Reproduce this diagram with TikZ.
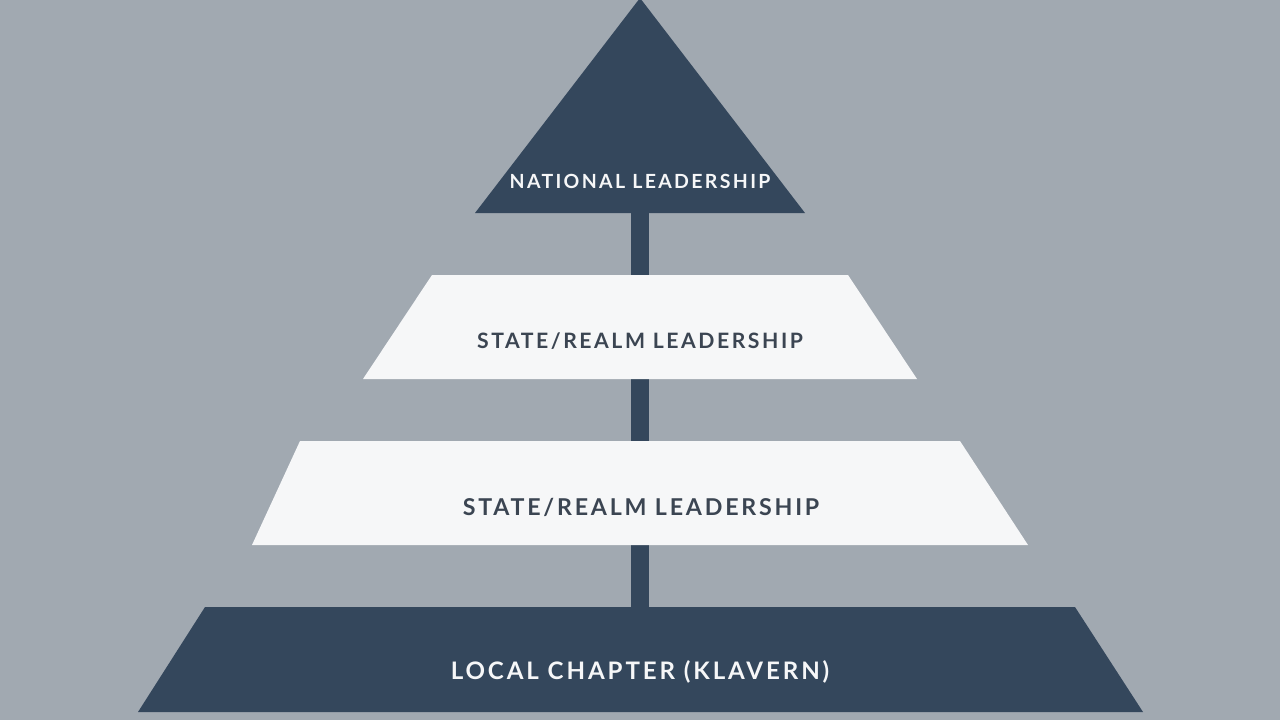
\documentclass[tikz,border=0pt]{standalone}
\usepackage{fontspec}
\setmainfont{Lato}
\newfontfamily\lblfont[LetterSpace=12]{Lato}
\definecolor{bgc}{HTML}{A1A9B1}
\definecolor{navy}{HTML}{34475C}
\definecolor{paper}{HTML}{F6F7F8}
\definecolor{inkc}{HTML}{3B4552}
\begin{document}
\begin{tikzpicture}[x=1pt,y=-1pt,
  darkshape/.style={fill=navy,draw=none},
  lightshape/.style={fill=paper,draw=none},
  lbl/.style={font=\lblfont\bfseries, inner sep=0pt, anchor=center},
  darklbl/.style={lbl,text=paper},
  lightlbl/.style={lbl,text=inkc},
  stem/.style={line width=18pt,draw=navy}]
\fill[bgc] (0,0) rectangle (1280,720);
\useasboundingbox (0,0) rectangle (1280,720);
% stem
\coordinate (stemtop) at (640,213);
\coordinate (stembot) at (640,607);
\draw[stem] (stemtop) -- (stembot);
% triangle
\fill[darkshape] (640,-2) -- (805,213) -- (475,213) -- cycle;
% trapezoid 1
\fill[lightshape] (432,275) -- (848,275) -- (917,379) -- (363,379) -- cycle;
% trapezoid 2
\fill[lightshape] (300,441) -- (960,441) -- (1028,545) -- (252,545) -- cycle;
% bottom
\fill[darkshape] (205,607) -- (1075,607) -- (1143,712) -- (138,712) -- cycle;
% labels
\node[darklbl, font=\lblfont\bfseries\fontsize{19.5}{22}\selectfont] (nat) at (640,181) {NATIONAL LEADERSHIP};
\node[lightlbl, font=\lblfont\bfseries\fontsize{21.2}{24}\selectfont] (st1) at (640,341) {STATE/REALM LEADERSHIP};
\node[lightlbl, font=\lblfont\bfseries\fontsize{23.2}{26}\selectfont] (st2) at (641,507) {STATE/REALM LEADERSHIP};
\node[darklbl, font=\lblfont\bfseries\fontsize{24.1}{27}\selectfont] (loc) at (640,672) {LOCAL CHAPTER (KLAVERN)};
\end{tikzpicture}
\end{document}
